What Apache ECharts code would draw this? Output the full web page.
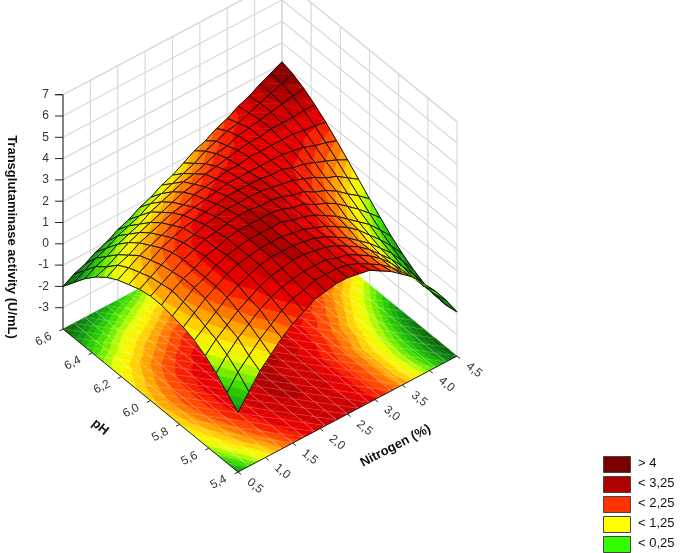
<!DOCTYPE html>
<html><head><meta charset="utf-8">
<script src="https://cdn.jsdelivr.net/npm/echarts/dist/echarts.min.js"></script>
<style>html,body{margin:0;padding:0;background:#fff}#c{width:685px;height:553px}</style>
</head><body><div id="c"></div>
<script>
// ---------------- data ----------------
const nitrogen = [0.5,0.7,0.9,1.1,1.3,1.5,1.7,1.9,2.1,2.3,2.5,2.7,2.9,3.1,3.3,3.5,3.7,3.9,4.1,4.3,4.5];
const pH = [6.6,6.525,6.45,6.375,6.3,6.225,6.15,6.075,6.0,5.925,5.85,5.775,5.7,5.625,5.55,5.475,5.4];
// activity[pH index][nitrogen index], U/mL
const activity = [
  [-2.0,-1.7,-1.5,-1.2,-1.0,-0.7,-0.5,-0.2,0.0,0.3,0.5,0.8,1.1,1.3,1.6,1.8,2.1,2.3,2.6,2.85,3.1],
  [-1.4,-1.1,-0.8,-0.6,-0.3,-0.1,0.1,0.4,0.6,0.8,1.0,1.2,1.5,1.7,1.9,2.0,2.2,2.4,2.6,2.77,2.94],
  [-0.8,-0.5,-0.3,0.0,0.2,0.4,0.7,0.9,1.1,1.3,1.4,1.6,1.8,1.9,2.1,2.2,2.3,2.4,2.5,2.6,2.68],
  [-0.3,-0.1,0.2,0.5,0.7,0.9,1.1,1.3,1.5,1.6,1.8,1.9,2.0,2.1,2.2,2.2,2.3,2.3,2.3,2.35,2.34],
  [0.1,0.4,0.6,0.9,1.1,1.3,1.5,1.6,1.8,1.9,2.0,2.1,2.1,2.2,2.2,2.2,2.2,2.2,2.1,2.04,1.94],
  [0.4,0.7,1.0,1.2,1.4,1.6,1.8,1.9,2.0,2.1,2.2,2.2,2.2,2.2,2.2,2.2,2.1,2.0,1.8,1.67,1.49],
  [0.6,0.9,1.2,1.5,1.7,1.9,2.0,2.1,2.2,2.3,2.3,2.3,2.3,2.2,2.2,2.0,1.9,1.7,1.5,1.28,1.01],
  [0.8,1.1,1.4,1.7,1.9,2.0,2.2,2.3,2.4,2.4,2.4,2.4,2.3,2.2,2.1,1.9,1.7,1.4,1.2,0.86,0.52],
  [0.9,1.2,1.5,1.8,2.0,2.2,2.3,2.4,2.5,2.5,2.4,2.4,2.3,2.1,2.0,1.7,1.5,1.2,0.8,0.44,0.02],
  [0.9,1.3,1.6,1.8,2.1,2.2,2.4,2.5,2.5,2.5,2.5,2.4,2.2,2.1,1.8,1.6,1.3,0.9,0.5,0.04,-0.45],
  [0.8,1.2,1.6,1.8,2.1,2.3,2.4,2.5,2.5,2.5,2.5,2.3,2.2,2.0,1.7,1.4,1.0,0.6,0.2,-0.34,-0.90],
  [0.7,1.1,1.5,1.8,2.1,2.3,2.4,2.5,2.5,2.5,2.4,2.3,2.1,1.9,1.6,1.3,0.9,0.4,-0.1,-0.67,-1.29],
  [0.5,0.9,1.3,1.7,2.0,2.2,2.4,2.5,2.5,2.5,2.4,2.3,2.1,1.8,1.5,1.1,0.7,0.2,-0.3,-0.94,-1.61],
  [0.2,0.7,1.1,1.5,1.8,2.1,2.3,2.4,2.5,2.5,2.4,2.3,2.1,1.8,1.5,1.1,0.6,0.1,-0.5,-1.14,-1.86],
  [-0.2,0.4,0.9,1.3,1.7,2.0,2.2,2.3,2.4,2.4,2.4,2.2,2.1,1.8,1.5,1.1,0.6,0.0,-0.6,-1.25,-2.00],
  [-0.7,0.0,0.5,1.0,1.4,1.8,2.1,2.2,2.4,2.4,2.4,2.3,2.1,1.8,1.5,1.1,0.6,0.1,-0.6,-1.26,-2.03],
  [-1.2,-0.5,0.2,0.7,1.2,1.6,1.9,2.2,2.3,2.4,2.4,2.3,2.2,1.9,1.6,1.2,0.8,0.2,-0.4,-1.11,-1.93]
];
const zTicks = [-3,-2,-1,0,1,2,3,4,5,6,7];
const pHTicks = [6.6,6.4,6.2,6.0,5.8,5.6,5.4];
const nTicks = [0.5,1.0,1.5,2.0,2.5,3.0,3.5,4.0,4.5];
const legendLabels = ['> 4','< 3,25','< 2,25','< 1,25','< 0,25'];
const legendColors = ['#7a0000','#b00000','#ff3300','#ffff00','#33ff00'];

// ---------------- view / style ----------------
const RANGE = {nMin:0.5,nMax:4.5,pMin:5.4,pMax:6.6,zMin:-4,zMax:7};
const VIEW = {ox:63, oy:329, uX:219, uY:-116, vX:175, vY:143, zPx:21.3, cot:1.136, tan:0.88};
const STOPS = [[-1.8,'#0a640a'],[-1.1,'#119b11'],[-0.5,'#2ed500'],[0.0,'#8cf500'],[0.35,'#e6ff00'],[0.7,'#ffee00'],[1.05,'#ffb300'],[1.4,'#ff7300'],[1.75,'#ff3300'],[2.1,'#e80000'],[2.5,'#c00000'],[2.9,'#8a0000']];
const BAND = 0.25, BAND_LO = -3, BAND_HI = 4.5;
const FONT = 'Liberation Sans, Arial, sans-serif';

function hex(c){return [parseInt(c.slice(1,3),16),parseInt(c.slice(3,5),16),parseInt(c.slice(5,7),16)];}
function rampColor(z){
  if (z<=STOPS[0][0]) return STOPS[0][1];
  for (let k=1;k<STOPS.length;k++){ if (z<=STOPS[k][0]){const a=hex(STOPS[k-1][1]),b=hex(STOPS[k][1]);const t=(z-STOPS[k-1][0])/(STOPS[k][0]-STOPS[k-1][0]);return 'rgb('+a.map((x,i)=>Math.round(x+(b[i]-x)*t)).join(',')+')';}}
  return STOPS[STOPS.length-1][1];
}
const bands=[]; for (let lo=BAND_LO; lo<BAND_HI; lo+=BAND) bands.push([lo,lo+BAND,rampColor(lo+BAND/2)]);

function uv(n,p){return [(n-RANGE.nMin)/(RANGE.nMax-RANGE.nMin),(RANGE.pMax-p)/(RANGE.pMax-RANGE.pMin)];}
function project(n,p,z){const [u,v]=uv(n,p);return [VIEW.ox+VIEW.uX*u+VIEW.vX*v, VIEW.oy+VIEW.uY*u+VIEW.vY*v-VIEW.zPx*(z-RANGE.zMin)];}
function nearness(n,p,z){const [u,v]=uv(n,p);return (VIEW.uY*u+VIEW.vY*v)*VIEW.cot + VIEW.zPx*(z-RANGE.zMin)*VIEW.tan;}

function clipHalf(pts,fn){const r=[];for(let k=0;k<pts.length;k++){const a=pts[k],b=pts[(k+1)%pts.length],fa=fn(a),fb=fn(b);if(fa>=0)r.push(a);if((fa>=0)!==(fb>=0)){const t=fa/(fa-fb);r.push([a[0]+(b[0]-a[0])*t,a[1]+(b[1]-a[1])*t,a[2]+(b[2]-a[2])*t]);}}return r;}
function bandPolys(tri,out){
  const mn=Math.min(tri[0][2],tri[1][2],tri[2][2]), mx=Math.max(tri[0][2],tri[1][2],tri[2][2]);
  for (const [lo,hi,c] of bands){
    if (hi<=mn && !(lo===BAND_LO)) continue; if (lo>mx) continue;
    let p=tri; if (lo>BAND_LO) p=clipHalf(p,q=>q[2]-lo); if (hi<BAND_HI) p=clipHalf(p,q=>hi-q[2]);
    if (p.length>=3) out.push({type:'polygon',shape:{points:p.map(q=>[q[0],q[1]])},style:{fill:c,stroke:c,lineWidth:0.5}});
  }
}
const nRows = pH.length, nCols = nitrogen.length;
const cells=[]; for(let i=0;i<nRows-1;i++)for(let j=0;j<nCols-1;j++)cells.push([i,j]);
const sortedCells = cells.slice().sort((a,b)=>{
  const d=c=>nearness((nitrogen[c[1]]+nitrogen[c[1]+1])/2,(pH[c[0]]+pH[c[0]+1])/2,(activity[c[0]][c[1]]+activity[c[0]+1][c[1]]+activity[c[0]][c[1]+1]+activity[c[0]+1][c[1]+1])/4);
  return d(a)-d(b);});

function pt(api,n,p,z){return api.coord(project(n,p,z));}
function line(a,b,stroke,w){return {type:'line',shape:{x1:a[0],y1:a[1],x2:b[0],y2:b[1]},style:{stroke,lineWidth:w}};}
function text(x,y,t,opt){return {type:'text',x,y,rotation:opt.rot||0,style:{text:t,fill:opt.fill||'#333',font:(opt.bold?'bold ':'')+(opt.size||12)+'px '+FONT,align:opt.align||'center',verticalAlign:'middle',textAlign:opt.align||'center',textVerticalAlign:'middle'}};}
function fmt(x){return x.toFixed(1).replace('.',',');}

function renderWalls(params,api){
  const ch=[], g='#d9d9d9';
  for(const n of nTicks) ch.push(line(pt(api,n,RANGE.pMax,RANGE.zMin),pt(api,n,RANGE.pMax,RANGE.zMax),g,1.2));
  for(const p of pHTicks) ch.push(line(pt(api,RANGE.nMax,p,RANGE.zMin),pt(api,RANGE.nMax,p,RANGE.zMax),g,1.2));
  for(const z of zTicks.concat([RANGE.zMax])){
    ch.push(line(pt(api,RANGE.nMin,RANGE.pMax,z),pt(api,RANGE.nMax,RANGE.pMax,z),g,1.2));
    ch.push(line(pt(api,RANGE.nMax,RANGE.pMax,z),pt(api,RANGE.nMax,RANGE.pMin,z),g,1.2));
  }
  return {type:'group',children:ch};
}
function renderFloor(params,api){
  const ch=[], lines=[];
  for(let i=0;i<nRows-1;i++)for(let j=0;j<nCols-1;j++){
    const q=[[i,j],[i,j+1],[i+1,j+1],[i+1,j]].map(([a,b])=>{const c=pt(api,nitrogen[b],pH[a],RANGE.zMin);return [c[0],c[1],activity[a][b]];});
    bandPolys([q[0],q[1],q[2]],ch); bandPolys([q[0],q[2],q[3]],ch);
    lines.push({type:'polyline',shape:{points:[[q[3][0],q[3][1]],[q[0][0],q[0][1]],[q[2][0],q[2][1]],[q[1][0],q[1][1]]]},style:{stroke:'rgba(255,255,255,0.28)',lineWidth:0.6,fill:null}});
  }
  return {type:'group',children:ch.concat(lines)};
}
function renderCell(params,api){
  const [i,j]=sortedCells[params.dataIndex];
  const q=[[i,j],[i,j+1],[i+1,j+1],[i+1,j]].map(([a,b])=>{const c=pt(api,nitrogen[b],pH[a],activity[a][b]);return [c[0],c[1],activity[a][b]];});
  const ch=[]; bandPolys([q[0],q[1],q[2]],ch); bandPolys([q[0],q[2],q[3]],ch);
  ch.push({type:'polygon',shape:{points:q.map(r=>[r[0],r[1]])},style:{fill:null,stroke:'#111111',lineWidth:1}});
  return {type:'group',children:ch};
}
function renderAxes(params,api){
  const ch=[], dark='#222';
  ch.push(line(pt(api,RANGE.nMin,RANGE.pMax,RANGE.zMin),pt(api,RANGE.nMin,RANGE.pMin,RANGE.zMin),dark,1));
  ch.push(line(pt(api,RANGE.nMin,RANGE.pMin,RANGE.zMin),pt(api,RANGE.nMax,RANGE.pMin,RANGE.zMin),dark,1));
  const z0=pt(api,RANGE.nMin,RANGE.pMax,RANGE.zMin), z1=pt(api,RANGE.nMin,RANGE.pMax,RANGE.zMax);
  ch.push(line(z0,z1,dark,1));
  for(const z of zTicks.concat([RANGE.zMax])){const a=pt(api,RANGE.nMin,RANGE.pMax,z);ch.push(line([a[0]-8,a[1]],a,dark,1));}
  for(const z of zTicks){const a=pt(api,RANGE.nMin,RANGE.pMax,z);ch.push(text(a[0]-14,a[1],String(z),{align:'right',size:12}));}
  ch.push(text(12,237,'Transglutaminase activity (U/mL)',{bold:true,size:13,rot:-Math.PI/2,fill:'#111'}));
  const ux=VIEW.uX,uy=VIEW.uY,ul=Math.hypot(ux,uy);
  for(const p of pHTicks){const a=pt(api,RANGE.nMin,p,RANGE.zMin);ch.push(line(a,[a[0]-ux/ul*4,a[1]-uy/ul*4],dark,1));
    ch.push(text(a[0]-ux/ul*22,a[1]-uy/ul*22,fmt(p),{rot:0.48,size:12}));}
  const pm=pt(api,RANGE.nMin,(RANGE.pMin+RANGE.pMax)/2,RANGE.zMin);
  ch.push(text(pm[0]-ux/ul*57,pm[1]-uy/ul*57,'pH',{bold:true,size:13,rot:-0.69,fill:'#111'}));
  const vx=VIEW.vX,vy=VIEW.vY,vl=Math.hypot(vx,vy);
  for(const n of nTicks){const a=pt(api,n,RANGE.pMin,RANGE.zMin);ch.push(line(a,[a[0]+vx/vl*4,a[1]+vy/vl*4],dark,1));
    ch.push(text(a[0]+vx/vl*22,a[1]+vy/vl*22,fmt(n),{rot:-0.69,size:12}));}
  const nm=pt(api,2.6,RANGE.pMin,RANGE.zMin);
  ch.push(text(nm[0]+vx/vl*55,nm[1]+vy/vl*55,'Nitrogen (%)',{bold:true,size:13,rot:0.48,fill:'#111'}));
  return {type:'group',children:ch};
}

const chart = echarts.init(document.getElementById('c'),null,{renderer:'canvas'});
const legendGraphic=[];
legendLabels.forEach((t,k)=>{
  legendGraphic.push({type:'rect',left:603,top:456+k*20,shape:{width:27,height:16},style:{fill:legendColors[k],stroke:'#444',lineWidth:1}});
  legendGraphic.push({type:'text',left:638,top:457+k*20,style:{text:t,fill:'#111',font:'13px '+FONT}});
});
chart.setOption({
  animation:false,
  grid:{left:0,right:0,top:0,bottom:0},
  xAxis:{type:'value',min:0,max:685,show:false},
  yAxis:{type:'value',min:0,max:553,inverse:true,show:false},
  graphic:legendGraphic,
  series:[
    {type:'custom',coordinateSystem:'cartesian2d',silent:true,clip:false,z:1,data:[[0,0]],renderItem:renderWalls},
    {type:'custom',coordinateSystem:'cartesian2d',silent:true,clip:false,z:2,data:[[0,0]],renderItem:renderFloor},
    {type:'custom',coordinateSystem:'cartesian2d',silent:true,clip:false,z:3,data:sortedCells.map(()=>[0,0]),renderItem:renderCell},
    {type:'custom',coordinateSystem:'cartesian2d',silent:true,clip:false,z:4,data:[[0,0]],renderItem:renderAxes}
  ]
});
</script></body></html>
